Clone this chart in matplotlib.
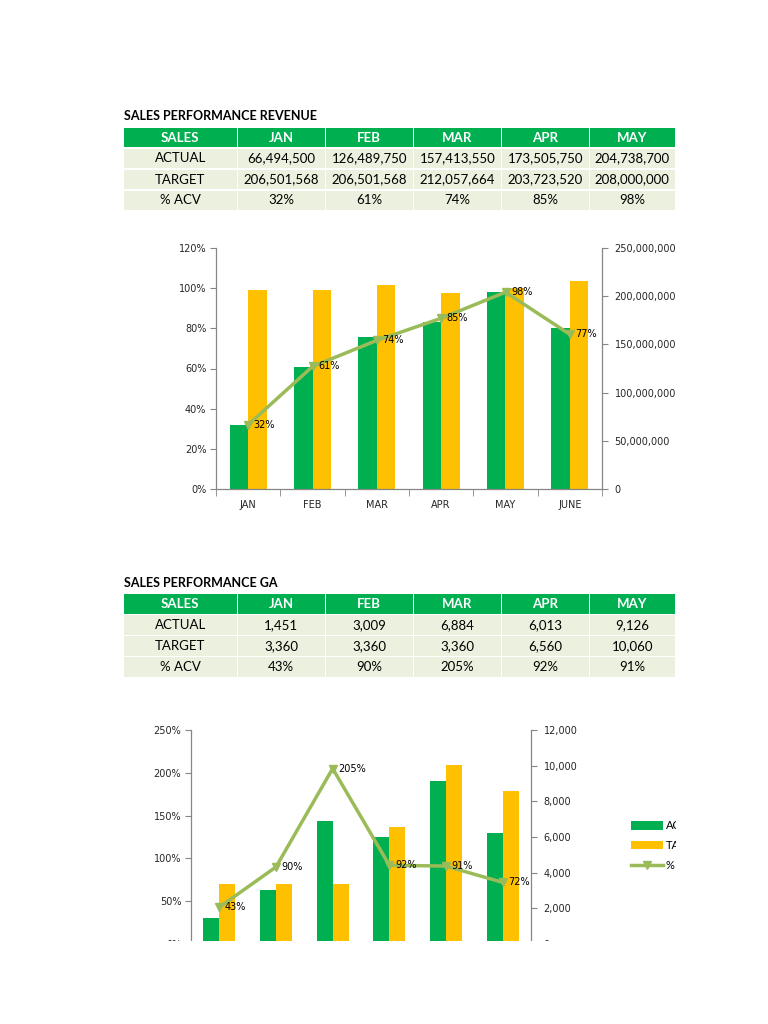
import matplotlib
matplotlib.use('Agg')
import matplotlib.pyplot as plt
from matplotlib.patches import Rectangle, Patch
from matplotlib.lines import Line2D
from matplotlib.ticker import FuncFormatter, MultipleLocator
import numpy as np

# charts use a Verdana-like face, the tables a Calibri-like one
plt.rcParams['font.family'] = ['DejaVu Sans']
TABLE_FONT = ['Lato', 'DejaVu Sans']

W, H = 768, 1024
GREEN = '#00B050'
GOLD = '#FFC000'
OLIVE = '#9BBB59'
ROWBG = '#EBF1DE'
AXC = '#868686'
TXT = '#262626'

# data
months = ['JAN', 'FEB', 'MAR', 'APR', 'MAY', 'JUNE']
tbl_cols = ['SALES', 'JAN', 'FEB', 'MAR', 'APR', 'MAY']
row_names = ['ACTUAL', 'TARGET', '% ACV']

rev_actual = [66494500, 126489750, 157413550, 173505750, 204738700, 166500000]
rev_target = [206501568, 206501568, 212057664, 203723520, 208000000, 216200000]
rev_acv = [32, 61, 74, 85, 98, 77]

ga_actual = [1451, 3009, 6884, 6013, 9126, 6200]
ga_target = [3360, 3360, 3360, 6560, 10060, 8600]
ga_acv = [43, 90, 205, 92, 91, 72]

fig = plt.figure(figsize=(7.68, 10.24), dpi=100)


def ax_px(x0, y0, x1, y1):
    return fig.add_axes([x0 / W, 1 - y1 / H, (x1 - x0) / W, (y1 - y0) / H])


# overlay in pixel coords (tables + page clipping)
ov = fig.add_axes([0, 0, 1, 1], zorder=10)
ov.set_xlim(0, W)
ov.set_ylim(H, 0)
ov.axis('off')

col_edges = [124, 238, 326, 414, 502, 590, 676]


def table(title, top, actual, target, acv):
    ov.text(124, top - 11, title, fontsize=9, fontweight='bold', va='center', ha='left',
            color='black', family=TABLE_FONT)
    rows = [tbl_cols,
            [row_names[0]] + [f'{v:,}' for v in actual[:5]],
            [row_names[1]] + [f'{v:,}' for v in target[:5]],
            [row_names[2]] + [f'{v}%' for v in acv[:5]]]
    for r, row in enumerate(rows):
        y0 = top + r * 21
        for c, s in enumerate(row):
            x0 = col_edges[c]
            w = col_edges[c + 1] - x0 - 1.5
            fc = GREEN if r == 0 else ROWBG
            ov.add_patch(Rectangle((x0, y0), w, 19.5, facecolor=fc, edgecolor='none'))
            ov.text(x0 + w / 2, y0 + 10, s, ha='center', va='center', fontsize=9.5,
                    color='white' if r == 0 else 'black', family=TABLE_FONT,
                    fontweight='bold' if r == 0 else 'normal')


table('SALES PERFORMANCE REVENUE', 127.5, rev_actual, rev_target, rev_acv)
table('SALES PERFORMANCE GA', 594, ga_actual, ga_target, ga_acv)


def chart(rect, actual, target, acv, lmax, lstep, rmax, rstep, bw):
    axl = ax_px(*rect)
    axr = axl.twinx()
    x = np.arange(len(months))
    axr.bar(x - bw / 2, actual, bw, color=GREEN)
    axr.bar(x + bw / 2, target, bw, color=GOLD)
    axl.plot(x, acv, color=OLIVE, lw=2.5, marker='v', ms=6)
    for xi, v in zip(x, acv):
        axl.annotate(f'{v}%', (xi, v), xytext=(4, 0), textcoords='offset points',
                     ha='left', va='center', fontsize=7, color='black')
    axl.set_zorder(axr.get_zorder() + 1)
    axl.patch.set_visible(False)

    axl.set_xlim(-0.5, len(months) - 0.5)
    axl.set_ylim(0, lmax)
    axr.set_ylim(0, rmax)
    axl.yaxis.set_major_locator(MultipleLocator(lstep))
    axr.yaxis.set_major_locator(MultipleLocator(rstep))
    axl.yaxis.set_major_formatter(FuncFormatter(lambda v, p: f'{int(round(v))}%'))
    axr.yaxis.set_major_formatter(FuncFormatter(lambda v, p: f'{int(round(v)):,}'))

    axl.set_xticks(x)
    axl.set_xticklabels(months)
    axl.set_xticks(np.arange(-0.5, len(months)), minor=True)
    axl.tick_params(axis='x', which='major', length=0, labelsize=7, labelcolor=TXT, pad=8)
    axl.tick_params(axis='x', which='minor', length=5, color=AXC, direction='out')
    axl.tick_params(axis='y', length=4, color=AXC, direction='out', labelsize=7, labelcolor=TXT, pad=3)
    axr.tick_params(axis='y', length=4, color=AXC, direction='out', labelsize=7, labelcolor=TXT, pad=5)

    for a in (axl, axr):
        a.spines['top'].set_visible(False)
        for s in a.spines.values():
            s.set_color(AXC)
            s.set_linewidth(0.9)
    axl.spines['right'].set_visible(False)
    axr.spines['left'].set_visible(False)
    axr.spines['bottom'].set_visible(False)
    return axl, axr


chart((216, 248, 602, 489), rev_actual, rev_target, rev_acv, 120, 20, 250000000, 50000000, 0.29)
chart((191, 730, 531, 944), ga_actual, ga_target, ga_acv, 250, 50, 12000, 2000, 0.28)

handles = [Patch(facecolor=GREEN), Patch(facecolor=GOLD),
           Line2D([], [], color=OLIVE, lw=2.5, marker='v', ms=6)]
fig.legend(handles, row_names, loc='upper left', bbox_to_anchor=(631 / W, 1 - 820 / H),
           frameon=False, prop={'family': TABLE_FONT, 'size': 8}, handlelength=2.9,
           handleheight=0.85, labelspacing=0.8, borderpad=0, borderaxespad=0, handletextpad=0.25)

# page edges: the sheet is cut at the right and at the bottom
ov.add_patch(Rectangle((676, 0), W - 676, H, facecolor='white', edgecolor='none', zorder=20))
ov.add_patch(Rectangle((0, 941), W, H - 941, facecolor='white', edgecolor='none', zorder=20))

fig.savefig('out.png', dpi=100, facecolor='white')
